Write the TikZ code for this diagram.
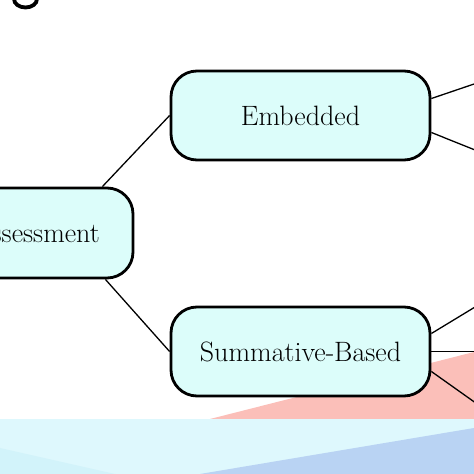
\documentclass[tikz,border=0pt]{standalone}
\usetikzlibrary{calc}
\definecolor{boxfill}{RGB}{220,253,250}
\definecolor{pinkbg}{RGB}{251,191,185}
\definecolor{cyanbg}{RGB}{222,248,253}
\definecolor{cyandk}{RGB}{210,243,250}
\definecolor{bluebg}{RGB}{185,211,243}
\tikzset{
  treebox/.style={draw=black, line width=2.8pt, fill=boxfill, rounded corners=26pt,
    inner sep=0pt, font=\fontsize{28}{33}\selectfont, text=black},
  link/.style={draw=black, line width=1.3pt}
}
\begin{document}
\begin{tikzpicture}[x=1pt,y=1pt]
\useasboundingbox (0,0) rectangle (474,474);
\clip (0,0) rectangle (474,474);
% background
\fill[pinkbg] (210,55) -- (474,122) -- (474,55) -- cycle;
\fill[cyanbg] (0,0) rectangle (474,55);
\fill[cyandk] (0,26) -- (115,0) -- (0,0) -- cycle;
\fill[bluebg] (200,0) -- (474,46) -- (474,0) -- cycle;
% partial letter at the top
\draw[line width=3.8pt] (14,475) arc[start angle=180, end angle=360, x radius=11.5, y radius=8.5];
% nodes
\node[treebox, minimum width=194pt, minimum height=90pt] (root) at (36,241) {Assessment};
\node[treebox, minimum width=259pt, minimum height=89pt] (emb) at (300.5,358.5) {Embedded};
\node[treebox, minimum width=259pt, minimum height=89pt] (sum) at (300.5,122.5) {Summative-Based};
% off-frame children
\coordinate (e1) at (480,392);
\coordinate (e2) at (480,322);
\coordinate (s1) at (480,170);
\coordinate (s2) at (480,122.5);
\coordinate (s3) at (480,68);
% connectors
\draw[link] ($(root.north east)+(-32,0)$) -- (emb.west);
\draw[link] ($(root.south east)+(-29,0)$) -- (sum.west);
\draw[link] ($(emb.east)+(0,17)$) -- (e1);
\draw[link] ($(emb.east)+(0,-17)$) -- (e2);
\draw[link] ($(sum.east)+(0,18)$) -- (s1);
\draw[link] (sum.east) -- (s2);
\draw[link] ($(sum.east)+(0,-20)$) -- (s3);
\end{tikzpicture}
\end{document}
